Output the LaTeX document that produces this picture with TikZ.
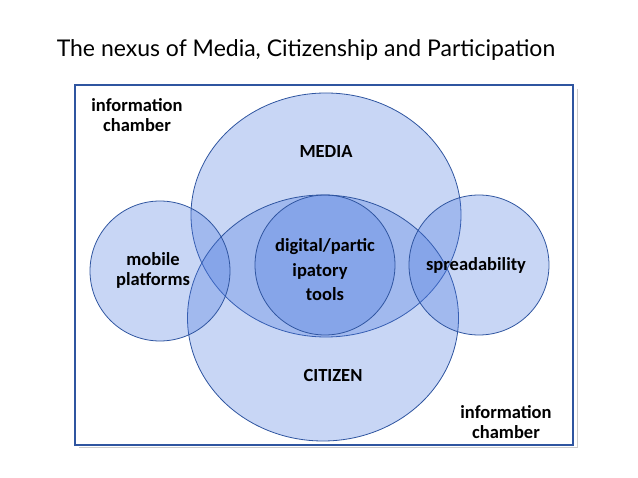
\documentclass[tikz,border=0pt]{standalone}
\usepackage{fontspec}
\setmainfont{Carlito}
\newfontfamily\titlefont{Lato}
\usetikzlibrary{shapes.geometric}
\definecolor{setfill}{RGB}{72,118,222}
\definecolor{setrim}{RGB}{47,85,160}

\begin{document}
\begin{tikzpicture}[x=1pt,y=-1pt,
  set/.style={draw=setrim, line width=0.8pt, fill=setfill, fill opacity=0.3, text opacity=1, inner sep=0pt, outer sep=0pt},
  word/.style={font=\fontsize{18.5}{20}\selectfont\bfseries, align=center, inner sep=0pt}]
  \useasboundingbox (0,0) rectangle (638,478);

  \node (title) at (306,50) {\titlefont\fontsize{23}{26}\selectfont The nexus of Media, Citizenship and Participation};

  % frame, with its grey shadow
  \draw[black!20, line width=1pt] (577,89) -- (577,448) -- (79,448);
  \draw[setrim, line width=1.4pt] (75,85) rectangle (573,445);

  % sets
  \node (media)   [set, ellipse, minimum width=270pt, minimum height=244pt] at (326,215) {};
  \node (citizen) [set, ellipse, minimum width=271pt, minimum height=246pt] at (323,318) {};
  \node (mobile)  [set, circle, minimum size=140pt] at (160,271) {};
  \node (spread)  [set, circle, minimum size=140pt] at (479,265) {};
  \node (tools)   [set, circle, minimum size=140pt] at (325,265) {};

  % texts
  \node (medialabel)   [word] at (326,152) {MEDIA};
  \node (citizenlabel) [word] at (333,375) {CITIZEN};
  \node (mobilelabel)  [word] at (153,270) {mobile\\platforms};
  \node (spreadlabel)  [word] at (476,265) {spreadability};
  \node (toolslabel)   [word, font=\fontsize{18.5}{24.5}\selectfont\bfseries] at (325,270) {digital/partic\\ipatory\rule{10pt}{0pt}\\tools};
  \node (infotop)      [word] at (137,115) {information\\chamber};
  \node (infobottom)   [word] at (506,422) {information\\chamber};
\end{tikzpicture}
\end{document}
